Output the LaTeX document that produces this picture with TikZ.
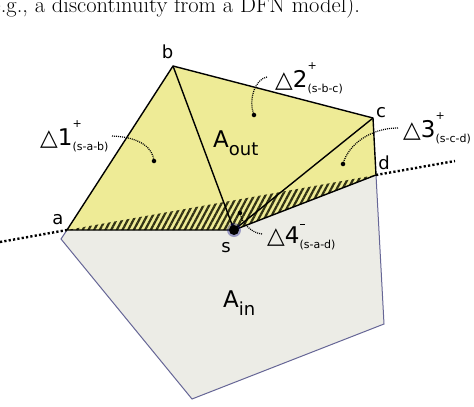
\documentclass[tikz,border=0pt]{standalone}
\usepackage{fontspec}
\newfontfamily\lblfont{DejaVu Sans}
\usetikzlibrary{patterns.meta}
\definecolor{cellyellow}{RGB}{238,235,150}
\definecolor{cellgray}{RGB}{236,236,230}
\definecolor{cellrim}{RGB}{102,102,150}
\definecolor{hatchcol}{RGB}{50,50,20}
\tikzset{
    edge/.style={line width=1.4pt, line join=round},
    frac/.style={line width=2.4pt, dash pattern=on 2.2pt off 2.2pt},
    leader/.style={line width=1.2pt, dash pattern=on 1pt off 1pt},
    vlabel/.style={font=\lblfont\fontsize{18}{18}\selectfont, inner sep=0pt},
    tlabel/.style={font=\lblfont, inner sep=0pt, anchor=base west},
    tip/.style={fill, circle, inner sep=1.6pt}
}
\newcommand{\trilab}[3]{\fontsize{23}{23}\selectfont △#1\makebox[0pt][l]{\raisebox{18pt}{\fontsize{11}{11}\selectfont #2}}\raisebox{-5pt}{\fontsize{11}{11}\selectfont (#3)}}
\newcommand{\arealab}[1]{\fontsize{23}{23}\selectfont A\raisebox{-8pt}{\fontsize{18}{18}\selectfont #1}}
\newcommand{\negsign}{\hspace{0.5pt}\rule{5pt}{1.4pt}}

\begin{document}
\begin{tikzpicture}[x=1pt, y=-1pt]
    \useasboundingbox (0,0) rectangle (474,407);
    % vertices
    \coordinate (a) at (67,230);
    \coordinate (b) at (173,66);
    \coordinate (c) at (373,118);
    \coordinate (d) at (376,175);
    \coordinate (s) at (234,230);
    \coordinate (g1) at (384,324);
    \coordinate (g2) at (192,399);
    \coordinate (g3) at (61,239);
    \coordinate (fl) at (0,242);
    \coordinate (fr) at (455,161);

    % caption line, cut off
    \node[anchor=base west, inner sep=0pt, font=\fontsize{22.5}{22.5}\selectfont] (cap) at (-8.5,12.5) {e.g., a discontinuity from a DFN model).};

    % inner area
    \fill[cellgray] (a) -- (s) -- (d) -- (g1) -- (g2) -- (g3) -- cycle;
    \draw[cellrim, line width=1pt] (d) -- (g1) -- (g2) -- (g3) -- (a);
    % outer area
    \fill[cellyellow] (a) -- (b) -- (c) -- (d) -- (s) -- cycle;
    \fill[pattern={Lines[angle=62, distance=5pt, line width=2.2pt]}, pattern color=hatchcol] (a) -- (d) -- (s) -- cycle;
    \draw[edge] (s) -- (a) -- (b) -- (c) -- (d) -- cycle;
    \draw[edge] (s) -- (b) (s) -- (c);
    % fracture
    \draw[frac] (fl) -- (a) (d) -- (fr);

    % point s
    \fill[blue!50!black, opacity=.35] (s) circle (7);
    \node[fill, circle, inner sep=0pt, minimum size=10pt] (sdot) at (s) {};

    % vertex labels
    \node[vlabel] (la) at (58,220) {a};
    \node[vlabel] (lb) at (167.5,51.5) {b};
    \node[vlabel] (lc) at (381,113) {c};
    \node[vlabel] (ld) at (384,163) {d};
    \node[vlabel] (ls) at (226,247.5) {s};

    % areas
    \node[tlabel] (aout) at (213,147) {\arealab{out}};
    \node[tlabel] (ain) at (223,307) {\arealab{in}};

    % triangle labels
    \node[tlabel] (tri1) at (40,145) {\trilab{1}{+}{s-a-b}};
    \node[tlabel] (tri2) at (275,87) {\trilab{2}{+}{s-b-c}};
    \node[tlabel] (tri3) at (403,137) {\trilab{3}{+}{s-c-d}};
    \node[tlabel] (tri4) at (267,243) {\trilab{4}{\negsign}{s-a-d}};

    % leaders
    \node[tip] (t1) at (154,161) {};
    \node[tip] (t2) at (254,115) {};
    \node[tip] (t3) at (343,164) {};
    \node[tip] (t4) at (240,213) {};
    \coordinate (l1) at (112,136);
    \coordinate (l2) at (267,77);
    \coordinate (l3) at (398,128);
    \coordinate (l4) at (262,234);
    \draw[leader] (l1) .. controls (140,137) and (153,148) .. (t1.center);
    \draw[leader] (l2) .. controls (255,79) and (248,100) .. (t2.center);
    \draw[leader] (l3) .. controls (370,128) and (348,145) .. (t3.center);
    \draw[leader] (l4) .. controls (252,233) and (242,224) .. (t4.center);
\end{tikzpicture}
\end{document}
